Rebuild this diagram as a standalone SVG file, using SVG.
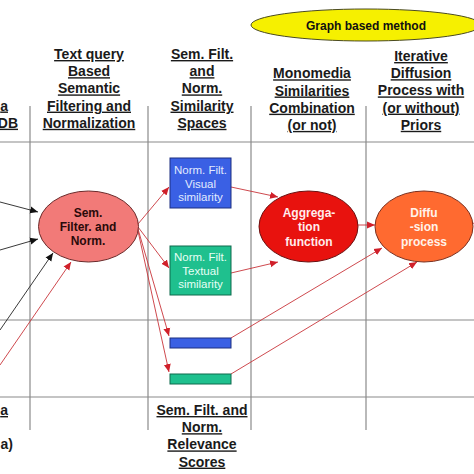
<svg xmlns="http://www.w3.org/2000/svg" width="474" height="474" viewBox="0 0 474 474">
<defs>
<style>
.grid{stroke:#8a8a8a;stroke-width:1.2;fill:none}
.hd{font-family:"Liberation Sans",Arial,sans-serif;font-size:14px;font-weight:bold;fill:#1a1a1a;text-anchor:middle;text-decoration:underline}
.end{text-anchor:end}
.nu{text-decoration:none}
.nd{font-family:"Liberation Sans",Arial,sans-serif;font-size:12px;font-weight:bold;text-anchor:middle}
.bx{font-family:"Liberation Sans",Arial,sans-serif;font-size:11.5px;text-anchor:middle}
.blk{stroke:#222;stroke-width:0.9;fill:none}
.red{stroke:#C8343A;stroke-width:0.9;fill:none}
</style>
<marker id="ab" markerUnits="userSpaceOnUse" markerWidth="9" markerHeight="8" refX="8" refY="4" orient="auto"><path d="M0,0.5 L8,4 L0,7.5 Z" fill="#111"/></marker>
<marker id="ar" markerUnits="userSpaceOnUse" markerWidth="9" markerHeight="8" refX="8" refY="4" orient="auto"><path d="M0,0.5 L8,4 L0,7.5 Z" fill="#D0202A"/></marker>
</defs>
<rect width="474" height="474" fill="#fff"/>
<g id="grid">
<line class="grid" x1="30" y1="106" x2="30" y2="430"/>
<line class="grid" x1="148" y1="106" x2="148" y2="430"/>
<line class="grid" x1="251" y1="106" x2="251" y2="430"/>
<line class="grid" x1="366" y1="106" x2="366" y2="430"/>
<line class="grid" x1="0" y1="142" x2="474" y2="142" stroke="#777"/>
<line class="grid" x1="0" y1="320" x2="474" y2="320" stroke="#777"/>
<line class="grid" x1="0" y1="397" x2="474" y2="397" stroke="#777"/>
</g>
<g id="graph-label">
<ellipse cx="366" cy="25" rx="115" ry="16" fill="#F6F000" stroke="#4a4a20" stroke-width="1"/>
<text class="nd" x="366" y="30" fill="#111">Graph based method</text>
</g>
<g id="headers">
<text class="hd end" x="8" y="110.5">a</text>
<text class="hd end" x="18" y="127.7">DB</text>
<text class="hd" x="89" y="59">Text query</text>
<text class="hd" x="89" y="76.2">Based</text>
<text class="hd" x="89" y="93.4">Semantic</text>
<text class="hd" x="89" y="110.6">Filtering and</text>
<text class="hd" x="89" y="127.8">Normalization</text>
<text class="hd" x="202" y="59">Sem. Filt.</text>
<text class="hd" x="202" y="76.2">and</text>
<text class="hd" x="202" y="93.4">Norm.</text>
<text class="hd" x="202" y="110.6">Similarity</text>
<text class="hd" x="202" y="127.8">Spaces</text>
<text class="hd" x="312" y="78.3">Monomedia</text>
<text class="hd" x="312" y="95.5">Similarities</text>
<text class="hd" x="312" y="112.7">Combination</text>
<text class="hd" x="312" y="129.9">(or not)</text>
<text class="hd" x="421" y="61">Iterative</text>
<text class="hd" x="421" y="78.2">Diffusion</text>
<text class="hd" x="421" y="95.4">Process with</text>
<text class="hd" x="421" y="112.6">(or without)</text>
<text class="hd" x="421" y="129.8">Priors</text>
<text class="hd end" x="8" y="415">a</text>
<text class="hd end nu" x="13" y="449.3">a)</text>
<text class="hd" x="202" y="415">Sem. Filt. and</text>
<text class="hd" x="202" y="432.2">Norm.</text>
<text class="hd" x="202" y="449.4">Relevance</text>
<text class="hd" x="202" y="466.6">Scores</text>
</g>
<g id="connectors">
<line class="blk" x1="0" y1="202" x2="38" y2="212" marker-end="url(#ab)"/>
<line class="blk" x1="0" y1="250" x2="38" y2="239" marker-end="url(#ab)"/>
<line class="blk" x1="0" y1="330" x2="53" y2="253" marker-end="url(#ab)"/>
<line class="red" x1="0" y1="365" x2="71" y2="262" marker-end="url(#ar)"/>
<line class="red" x1="138" y1="224" x2="169" y2="187" marker-end="url(#ar)"/>
<line class="red" x1="138" y1="227" x2="169" y2="268" marker-end="url(#ar)"/>
<line class="red" x1="138" y1="229" x2="169" y2="336" marker-end="url(#ar)"/>
<line class="red" x1="138" y1="231" x2="169" y2="372" marker-end="url(#ar)"/>
<line class="red" x1="231" y1="187" x2="278" y2="197" marker-end="url(#ar)"/>
<line class="red" x1="231" y1="273" x2="278" y2="262" marker-end="url(#ar)"/>
<line class="red" x1="358" y1="225" x2="375" y2="225" marker-end="url(#ar)"/>
<line class="red" x1="231" y1="338" x2="382" y2="248" marker-end="url(#ar)"/>
<line class="red" x1="231" y1="374" x2="417" y2="262" marker-end="url(#ar)"/>
<line class="red" x1="472" y1="224" x2="474" y2="223" stroke="#7a3020" stroke-width="2"/>
</g>
<g id="sem-filter">
<ellipse cx="88.5" cy="226.5" rx="50" ry="35.5" fill="#F27A78" stroke="#6a2a2a" stroke-width="1"/>
<text class="nd" x="88" y="217" fill="#2a0a0a">Sem.</text>
<text class="nd" x="88" y="231" fill="#2a0a0a">Filter. and</text>
<text class="nd" x="88" y="245" fill="#2a0a0a">Norm.</text>
</g>
<g id="visual">
<rect x="170" y="158" width="61" height="50" fill="#3A60E4" stroke="#1c2f80" stroke-width="1"/>
<text class="bx" x="200.5" y="174" fill="#E2EBFF">Norm. Filt.</text>
<text class="bx" x="200.5" y="187.5" fill="#E2EBFF">Visual</text>
<text class="bx" x="200.5" y="201" fill="#E2EBFF">similarity</text>
</g>
<g id="textual">
<rect x="170" y="246" width="61" height="49" fill="#1FC08E" stroke="#0e6a4c" stroke-width="1"/>
<text class="bx" x="200.5" y="261" fill="#E6FFF5">Norm. Filt.</text>
<text class="bx" x="200.5" y="274.5" fill="#E6FFF5">Textual</text>
<text class="bx" x="200.5" y="288" fill="#E6FFF5">similarity</text>
</g>
<g id="visual-score">
<rect x="170" y="338" width="61" height="10" fill="#3A60E4" stroke="#1c2f80" stroke-width="1"/>
</g>
<g id="textual-score">
<rect x="170" y="374" width="61" height="10" fill="#1FC08E" stroke="#0e6a4c" stroke-width="1"/>
</g>
<g id="aggregation">
<ellipse cx="308.5" cy="226.5" rx="49.5" ry="35.5" fill="#E8120E" stroke="#6a1010" stroke-width="1"/>
<text class="nd" x="309" y="217" fill="#FFECEC">Aggrega-</text>
<text class="nd" x="309" y="231.3" fill="#FFECEC">tion</text>
<text class="nd" x="309" y="245.5" fill="#FFECEC">function</text>
</g>
<g id="diffusion">
<ellipse cx="424" cy="226.5" rx="49" ry="35.5" fill="#FF6A30" stroke="#7a3020" stroke-width="1"/>
<text class="nd" x="424" y="217" fill="#FFF2EA">Diffu</text>
<text class="nd" x="424" y="231.3" fill="#FFF2EA">-sion</text>
<text class="nd" x="424" y="245.5" fill="#FFF2EA">process</text>
</g>
</svg>
